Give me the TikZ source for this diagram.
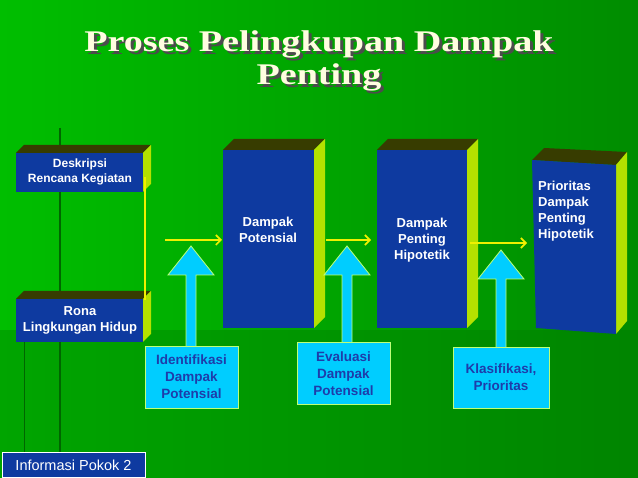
\documentclass[tikz,border=0pt]{standalone}
\usepackage{fontspec}
\setmainfont{Liberation Sans}
\newfontfamily\titlefont{Liberation Serif}
\usetikzlibrary{arrows.meta}
\definecolor{bgL}{RGB}{0,190,0}
\definecolor{bgR}{RGB}{0,140,0}
\definecolor{bgD}{RGB}{0,120,0}
\definecolor{boxblue}{RGB}{14,58,160}
\definecolor{sidegreen}{RGB}{180,225,0}
\definecolor{topdark}{RGB}{55,60,0}
\definecolor{cyanf}{RGB}{0,205,255}
\definecolor{cyanb}{RGB}{190,255,120}
\definecolor{txtblue}{RGB}{30,60,170}
\definecolor{ylw}{RGB}{240,240,0}
\tikzset{
  front/.style={fill=boxblue},
  sideface/.style={fill=sidegreen},
  topface/.style={fill=topdark},
  wtxt/.style={text=white,font=\bfseries\fontsize{13}{16}\selectfont,align=center},
  stxt/.style={text=white,font=\bfseries\fontsize{12}{15}\selectfont,align=center},
  ctxt/.style={fill=cyanf,draw=cyanb,line width=0.8pt,text=txtblue,font=\bfseries\fontsize{13.5}{17}\selectfont,align=center,inner sep=0pt},
  yarrow/.style={draw=ylw,line width=1.6pt,-{Straight Barb[length=5pt,width=10pt]}},
  cyarrow/.style={fill=cyanf,draw=cyanb,line width=0.8pt},
  ttl/.style={font=\titlefont\bfseries\fontsize{30}{33}\selectfont,align=center,transform shape,xscale=1.27}
}
\newcommand{\boxthree}[6]{% name, x1,y1,x2,y2, depth
  \fill[topface] (#2,#3) -- (#2+#6,#3-#6) -- (#4+#6,#3-#6) -- (#4,#3) -- cycle;
  \fill[sideface] (#4,#3) -- (#4+#6,#3-#6) -- (#4+#6,#5-#6) -- (#4,#5) -- cycle;
  \fill[front] (#2,#3) rectangle (#4,#5);
  \coordinate (#1) at ({(#2+#4)/2},{(#3+#5)/2});
}
\begin{document}
\begin{tikzpicture}[x=1pt,y=-1pt]
\useasboundingbox (0,0) rectangle (638,478);
\shade[left color=bgL,right color=bgR] (0,0) rectangle (638,478);
\fill[bgD,opacity=0.35] (0,330) rectangle (638,478);
\draw[green!40!black,line width=1.2pt] (60,128) -- (60,478);
\draw[green!40!black,line width=0.6pt] (24,340) -- (24,478);
% title
\node[ttl,text=black!70] at (322,64) {Proses Pelingkupan Dampak\\Penting};
\node[ttl,text=yellow!12!white] (title) at (319,61) {Proses Pelingkupan Dampak\\Penting};
% boxes
\boxthree{desk}{16}{153}{143}{192}{8}
\boxthree{rona}{16}{299}{143}{342}{8}
\boxthree{dp}{223}{150}{314}{328}{11}
\boxthree{dph}{377}{150}{467}{328}{11}
\fill[topface] (532,160) -- (544,148) -- (627,152) -- (616,165) -- cycle;
\fill[sideface] (616,165) -- (627,152) -- (627,321) -- (616,334) -- cycle;
\fill[front] (532,160) -- (616,165) -- (616,334) -- (536,328) -- cycle;
\node[stxt] at (80,172) {Deskripsi\\Rencana Kegiatan};
\node[wtxt] at (80,320) {Rona\\Lingkungan Hidup};
\node[wtxt] at (268,230) {Dampak\\Potensial};
\node[wtxt] at (422,240) {Dampak\\Penting\\Hipotetik};
\node[wtxt,align=left,anchor=north west,inner sep=0pt] (prio) at (538,181) {Prioritas\\Dampak\\Penting\\Hipotetik};
% yellow connectors
\draw[ylw,line width=1.2pt] (145,177) -- (145,300);
\coordinate (a1) at (165,240);
\coordinate (a1e) at (222,240);
\draw[yarrow] (a1) -- (a1e);
\coordinate (a2) at (326,240);
\coordinate (a2e) at (371,240);
\draw[yarrow] (a2) -- (a2e);
\coordinate (a3) at (470,243);
\coordinate (a3e) at (527,243);
\draw[yarrow] (a3) -- (a3e);
% cyan arrows
\foreach \cx/\ty/\by in {191/246/348, 347/246/345, 501/250/350}{
  \draw[cyarrow] (\cx,\ty) -- (\cx+23,\ty+29) -- (\cx+5,\ty+29) -- (\cx+5,\by) -- (\cx-5,\by) -- (\cx-5,\ty+29) -- (\cx-23,\ty+29) -- cycle;
}
\node[ctxt,minimum width=93pt,minimum height=62pt] (idf) at (191.5,377) {Identifikasi\\Dampak\\Potensial};
\node[ctxt,minimum width=93pt,minimum height=62pt] (eva) at (343.5,373.5) {Evaluasi\\Dampak\\Potensial};
\node[ctxt,minimum width=96pt,minimum height=61pt] (kla) at (501,377.5) {Klasifikasi,\\Prioritas};
% bottom label
\node[fill=boxblue,draw=white,line width=0.8pt,text=white,font=\fontsize{14.5}{16}\selectfont,minimum width=143pt,minimum height=25pt,inner sep=0pt] (info) at (73.5,465) {Informasi Pokok 2};
\end{tikzpicture}
\end{document}
